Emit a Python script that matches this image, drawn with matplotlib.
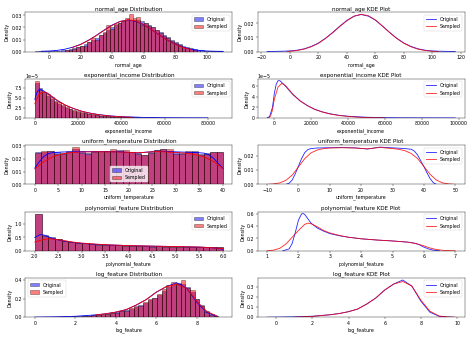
import numpy as np
import matplotlib
matplotlib.use('Agg')
import matplotlib.pyplot as plt

# ---- normal_age ----
age_bin_start, age_bin_width = -9.0, 2.38
age_hist_orig = [0.0001, 0.0001, 0.0001, 0.0002, 0.0003, 0.0004, 0.0006, 0.0009, 0.0013, 0.0019,
                 0.0026, 0.0036, 0.0048, 0.0062, 0.0078, 0.0096, 0.0116, 0.0137, 0.0158, 0.0180,
                 0.0200, 0.0219, 0.0236, 0.0250, 0.0260, 0.0265, 0.0265, 0.0260, 0.0251, 0.0238,
                 0.0221, 0.0202, 0.0182, 0.0160, 0.0139, 0.0118, 0.0098, 0.0080, 0.0064, 0.0050,
                 0.0038, 0.0028, 0.0020, 0.0014, 0.0010, 0.0006, 0.0004, 0.0003, 0.0002, 0.0001]
age_samp_offset = 8
age_hist_samp = [0.0010, 0.0015, 0.0025, 0.0040, 0.0050, 0.0045, 0.0080, 0.0110, 0.0100, 0.0140,
                 0.0160, 0.0220, 0.0190, 0.0225, 0.0240, 0.0255, 0.0275, 0.0310, 0.0280, 0.0285,
                 0.0220, 0.0240, 0.0210, 0.0200, 0.0175, 0.0150, 0.0130, 0.0110, 0.0090, 0.0075,
                 0.0055, 0.0040, 0.0030, 0.0020, 0.0010]
age_kde_x_orig = [-16, -10, -5, 0, 5, 10, 15, 20, 25, 30, 35, 40, 45, 50, 55, 60, 65, 70, 75,
                  80, 85, 90, 95, 100, 105, 110, 116]
age_kde_y_orig = [0.0000, 0.0001, 0.0002, 0.0004, 0.0009, 0.0019, 0.0036, 0.0060, 0.0094, 0.0135,
                  0.0180, 0.0221, 0.0251, 0.0262, 0.0251, 0.0222, 0.0180, 0.0135, 0.0094, 0.0060,
                  0.0036, 0.0019, 0.0009, 0.0004, 0.0002, 0.0001, 0.0000]
age_kde_x_samp = [-2, 0, 5, 10, 15, 20, 25, 30, 35, 40, 45, 50, 55, 60, 65, 70, 75, 80, 85, 90,
                  95, 100, 104]
age_kde_y_samp = [0.0000, 0.0002, 0.0007, 0.0017, 0.0034, 0.0058, 0.0093, 0.0133, 0.0177, 0.0218,
                  0.0250, 0.0264, 0.0254, 0.0224, 0.0180, 0.0134, 0.0092, 0.0058, 0.0033, 0.0016,
                  0.0007, 0.0002, 0.0000]

# ---- exponential_income ----
inc_bin_start, inc_bin_width = 0.0, 1740.0
inc_hist_orig = [8.6, 7.4, 6.3, 5.4, 4.6, 3.9, 3.4, 2.9, 2.5, 2.1, 1.8, 1.5, 1.3, 1.1, 0.95,
                 0.81, 0.69, 0.59, 0.51, 0.43, 0.37, 0.32, 0.27, 0.23, 0.20, 0.17, 0.14, 0.12,
                 0.10, 0.09, 0.08, 0.07, 0.06, 0.05, 0.04, 0.035, 0.03, 0.025, 0.02, 0.018,
                 0.015, 0.012, 0.010, 0.008, 0.007, 0.006, 0.005, 0.004, 0.003, 0.003]
inc_samp_offset = 0
inc_hist_samp = [9.2, 7.0, 6.5, 6.0, 5.2, 4.2, 3.9, 3.2, 2.8, 2.3, 2.0, 1.7, 1.4, 1.3, 1.0,
                 0.9, 0.75, 0.6, 0.5, 0.45, 0.35, 0.3, 0.25, 0.2, 0.15, 0.12, 0.1, 0.08]
inc_kde_x_orig = [-3900, -2500, -1000, 0, 1000, 2000, 3000, 4000, 6000, 8000, 10000, 14000, 18000,
                  22000, 26000, 30000, 35000, 40000, 50000, 60000, 70000, 80000, 90000, 98000]
inc_kde_y_orig = [0, 0.3, 2.0, 4.6, 6.3, 7.0, 7.0, 6.7, 6.0, 5.2, 4.4, 3.2, 2.3, 1.6, 1.15, 0.8,
                  0.5, 0.32, 0.13, 0.05, 0.02, 0.01, 0.005, 0]
inc_kde_x_samp = [-3000, -2000, -1000, 0, 2000, 4000, 6000, 8000, 10000, 14000, 18000, 22000,
                  26000, 30000, 35000, 40000, 45000, 50000, 55000, 60000]
inc_kde_y_samp = [0, 0.4, 1.5, 3.5, 5.8, 6.5, 6.1, 5.3, 4.5, 3.2, 2.3, 1.6, 1.1, 0.75, 0.45,
                  0.28, 0.15, 0.07, 0.03, 0]
INC_SCALE = 1e-5

# ---- uniform_temperature ----
tmp_bin_start, tmp_bin_width = 0.0, 40.0 / 30
tmp_hist_orig = [0.0250, 0.0255, 0.0262, 0.0255, 0.0245, 0.0250, 0.0275, 0.0258, 0.0248, 0.0262,
                 0.0255, 0.0262, 0.0260, 0.0268, 0.0250, 0.0255, 0.0245, 0.0232, 0.0250, 0.0272,
                 0.0280, 0.0262, 0.0250, 0.0245, 0.0255, 0.0265, 0.0235, 0.0245, 0.0250, 0.0250]
tmp_samp_offset = 0
tmp_hist_samp = [0.0248, 0.0262, 0.0258, 0.0240, 0.0238, 0.0262, 0.0292, 0.0245, 0.0240, 0.0255,
                 0.0258, 0.0260, 0.0275, 0.0258, 0.0270, 0.0250, 0.0242, 0.0228, 0.0248, 0.0268,
                 0.0275, 0.0275, 0.0240, 0.0238, 0.0265, 0.0255, 0.0230, 0.0238, 0.0252, 0.0255]
tmp_kde_x_orig = [-4, -3, -2, -1, 0, 1, 2, 3, 4, 6, 10, 14, 18, 22, 26, 30, 34, 36, 37, 38,
                  39, 40, 41, 42, 43, 44]
tmp_kde_y_orig = [0, 0.0008, 0.0030, 0.0075, 0.0128, 0.0180, 0.0222, 0.0243, 0.0250, 0.0254,
                  0.0256, 0.0257, 0.0255, 0.0247, 0.0260, 0.0255, 0.0250, 0.0245, 0.0232, 0.0205,
                  0.0165, 0.0125, 0.0080, 0.0040, 0.0012, 0]
tmp_kde_x_samp = [-10, -8, -6, -4, -2, 0, 2, 4, 6, 8, 10, 14, 18, 22, 26, 30, 32, 34, 36, 38,
                  40, 42, 44, 46, 48, 50]
tmp_kde_y_samp = [0, 0.0003, 0.0010, 0.0028, 0.0065, 0.0122, 0.0180, 0.0220, 0.0240, 0.0250,
                  0.0254, 0.0256, 0.0254, 0.0248, 0.0258, 0.0250, 0.0245, 0.0235, 0.0215, 0.0180,
                  0.0125, 0.0070, 0.0030, 0.0010, 0.0003, 0]

# ---- polynomial_feature ----
poly_bin_start, poly_bin_width = 2.0, 4.0 / 28
poly_hist_orig = [1.38, 0.58, 0.52, 0.43, 0.38, 0.34, 0.31, 0.28, 0.26, 0.24, 0.22, 0.21, 0.20, 0.19,
                  0.185, 0.18, 0.175, 0.17, 0.165, 0.16, 0.155, 0.15, 0.15, 0.145, 0.14, 0.14, 0.135, 0.13]
poly_samp_offset = 0
poly_hist_samp = [1.40, 0.55, 0.48, 0.45, 0.36, 0.33, 0.30, 0.29, 0.25, 0.23, 0.23, 0.20, 0.21, 0.18,
                  0.19, 0.17, 0.18, 0.16, 0.17, 0.15, 0.16, 0.15, 0.14, 0.15, 0.13, 0.14, 0.13, 0.13]
poly_kde_x_orig = [1.5, 1.7, 1.8, 1.9, 2.0, 2.1, 2.15, 2.2, 2.3, 2.4, 2.6, 2.8, 3.0, 3.3, 3.6, 4.0,
                   4.5, 5.0, 5.5, 5.7, 5.85, 6.0, 6.15, 6.3, 6.5]
poly_kde_y_orig = [0, 0.03, 0.12, 0.30, 0.50, 0.60, 0.605, 0.59, 0.52, 0.45, 0.37, 0.32, 0.28, 0.245,
                   0.22, 0.195, 0.175, 0.16, 0.14, 0.125, 0.10, 0.06, 0.03, 0.01, 0]
poly_kde_x_samp = [1.0, 1.2, 1.4, 1.6, 1.8, 2.0, 2.2, 2.3, 2.4, 2.6, 2.8, 3.0, 3.3, 3.6, 4.0, 4.5,
                   5.0, 5.5, 5.8, 6.0, 6.2, 6.4, 6.6, 6.8, 7.0]
poly_kde_y_samp = [0, 0.01, 0.04, 0.11, 0.22, 0.33, 0.43, 0.45, 0.44, 0.39, 0.33, 0.29, 0.25, 0.22,
                   0.195, 0.175, 0.16, 0.14, 0.11, 0.08, 0.045, 0.02, 0.008, 0.002, 0]

# ---- log_feature ----
log_bin_start, log_bin_width = 0.0, 0.232
log_hist_orig = [0.002, 0.002, 0.003, 0.003, 0.004, 0.005, 0.006, 0.007, 0.009, 0.011,
                 0.014, 0.017, 0.020, 0.024, 0.029, 0.035, 0.042, 0.055, 0.065, 0.078,
                 0.092, 0.110, 0.130, 0.155, 0.180, 0.210, 0.240, 0.280, 0.320, 0.350,
                 0.370, 0.360, 0.330, 0.270, 0.200, 0.130, 0.070, 0.030, 0.010, 0.003]
log_samp_offset = 10
log_hist_samp = [0.012, 0.015, 0.020, 0.022, 0.030, 0.033, 0.045, 0.050, 0.070, 0.070,
                 0.100, 0.120, 0.125, 0.160, 0.200, 0.210, 0.250, 0.300, 0.350, 0.380,
                 0.360, 0.400, 0.310, 0.290, 0.200, 0.120, 0.060, 0.020, 0.008]
log_kde_x_orig = [-0.5, 0, 1, 2, 3, 3.5, 4, 4.5, 5, 5.5, 6, 6.5, 7, 7.5, 8, 8.5, 9, 9.5, 9.8]
log_kde_y_orig = [0, 0.001, 0.004, 0.010, 0.025, 0.037, 0.055, 0.080, 0.130, 0.190, 0.270, 0.330,
                  0.370, 0.310, 0.160, 0.050, 0.010, 0.002, 0]
log_kde_x_samp = [1.0, 2, 3, 3.5, 4, 4.5, 5, 5.5, 6, 6.5, 7, 7.5, 8, 8.5, 9, 9.5, 9.9]
log_kde_y_samp = [0, 0.008, 0.025, 0.037, 0.055, 0.082, 0.130, 0.190, 0.270, 0.330, 0.355, 0.310,
                  0.170, 0.060, 0.012, 0.002, 0]

FEATURES = [
    ('normal_age', age_bin_start, age_bin_width, age_hist_orig, age_samp_offset, age_hist_samp,
     age_kde_x_orig, age_kde_y_orig, age_kde_x_samp, age_kde_y_samp, 1.0, 'upper right'),
    ('exponential_income', inc_bin_start, inc_bin_width, inc_hist_orig, inc_samp_offset, inc_hist_samp,
     inc_kde_x_orig, inc_kde_y_orig, inc_kde_x_samp, inc_kde_y_samp, INC_SCALE, 'upper right'),
    ('uniform_temperature', tmp_bin_start, tmp_bin_width, tmp_hist_orig, tmp_samp_offset, tmp_hist_samp,
     tmp_kde_x_orig, tmp_kde_y_orig, tmp_kde_x_samp, tmp_kde_y_samp, 1.0, 'lower center'),
    ('polynomial_feature', poly_bin_start, poly_bin_width, poly_hist_orig, poly_samp_offset, poly_hist_samp,
     poly_kde_x_orig, poly_kde_y_orig, poly_kde_x_samp, poly_kde_y_samp, 1.0, 'upper right'),
    ('log_feature', log_bin_start, log_bin_width, log_hist_orig, log_samp_offset, log_hist_samp,
     log_kde_x_orig, log_kde_y_orig, log_kde_x_samp, log_kde_y_samp, 1.0, 'upper left'),
]


def clip_curve(x, y, lo, hi):
    x = np.asarray(x, float)
    y = np.asarray(y, float)
    keep = (x >= lo) & (x <= hi)
    return x[keep], y[keep]


fig, axes = plt.subplots(len(FEATURES), 2, figsize=(14, 9.96))

for row, (name, b0, bw, h_orig, s_off, h_samp, kxo, kyo, kxs, kys, scale, hist_loc) in enumerate(FEATURES):
    ax_h, ax_k = axes[row]
    h_orig = np.asarray(h_orig) * scale
    h_samp = np.asarray(h_samp) * scale
    kyo = np.asarray(kyo) * scale
    kys = np.asarray(kys) * scale

    # histogram panel
    edges_o = b0 + bw * np.arange(len(h_orig) + 1)
    edges_s = b0 + bw * np.arange(s_off, s_off + len(h_samp) + 1)
    ax_h.bar(edges_o[:-1], h_orig, width=np.diff(edges_o), align='edge', color='blue',
             alpha=0.5, edgecolor='black', linewidth=1.3, label='Original')
    ax_h.bar(edges_s[:-1], h_samp, width=np.diff(edges_s), align='edge', color='red',
             alpha=0.5, edgecolor='black', linewidth=1.3, label='Sampled')
    xo, yo = clip_curve(kxo, kyo, edges_o[0], edges_o[-1])
    xs, ys = clip_curve(kxs, kys, edges_s[0], edges_s[-1])
    ax_h.plot(xo, yo, color='blue', linewidth=1.8)
    ax_h.plot(xs, ys, color='red', linewidth=1.8)
    ax_h.set_title(f'{name} Distribution')
    ax_h.set_xlabel(name)
    ax_h.set_ylabel('Density')
    ax_h.legend(loc=hist_loc)

    # kde panel
    ax_k.plot(kxo, kyo, color='blue', linewidth=1.8, alpha=0.85, label='Original')
    ax_k.plot(kxs, kys, color='red', linewidth=1.8, alpha=0.85, label='Sampled')
    ax_k.set_ylim(bottom=0)
    ax_k.margins(y=0.05)
    ax_k.set_title(f'{name} KDE Plot')
    ax_k.set_xlabel(name)
    ax_k.set_ylabel('Density')
    ax_k.legend(loc='upper right')

plt.tight_layout()
plt.savefig('out.png', dpi=474 / 14)
plt.close(fig)
